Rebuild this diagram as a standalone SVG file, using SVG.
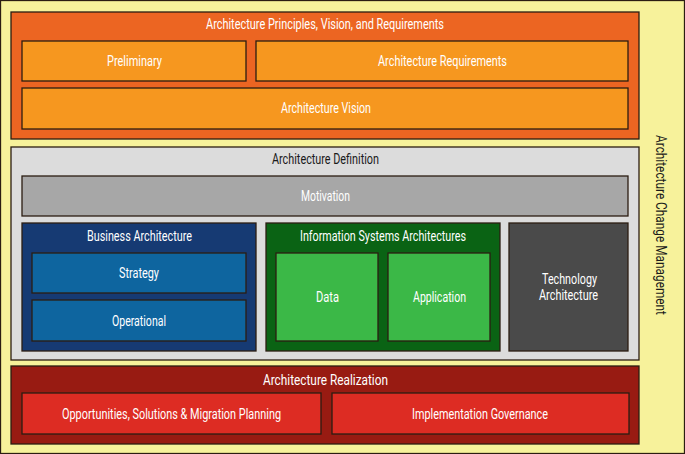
<svg xmlns="http://www.w3.org/2000/svg" width="685" height="454" viewBox="0 0 685 454">
<style>
rect{stroke:#2b1d12;stroke-width:1.3}
text{font-family:Roboto,"Liberation Sans",sans-serif;font-size:14.5px;fill:#fff;text-anchor:middle;dominant-baseline:central}
.dk{fill:#1a1a1a}
</style>
<rect x="0.5" y="0.5" width="684" height="453" fill="#F7F29B"/>
<g id="principles">
<rect x="11" y="12" width="628" height="127" fill="#EC6522"/>
<text x="325" y="24" textLength="238" lengthAdjust="spacingAndGlyphs">Architecture Principles, Vision, and Requirements</text>
</g>
<g id="preliminary"><rect x="22" y="41" width="224" height="40" fill="#F6971F"/><text x="134.5" y="61" textLength="55" lengthAdjust="spacingAndGlyphs">Preliminary</text></g>
<g id="requirements"><rect x="256" y="41" width="372" height="40" fill="#F6971F"/><text x="442.5" y="61" textLength="129" lengthAdjust="spacingAndGlyphs">Architecture Requirements</text></g>
<g id="vision"><rect x="22" y="88" width="606" height="41" fill="#F6971F"/><text x="326" y="108.5" textLength="90" lengthAdjust="spacingAndGlyphs">Architecture Vision</text></g>
<g id="definition">
<rect x="11" y="147" width="628" height="213" fill="#DCDCDC"/>
<text class="dk" x="325.5" y="159" textLength="107" lengthAdjust="spacingAndGlyphs">Architecture Definition</text>
</g>
<g id="motivation"><rect x="22" y="176" width="606" height="40" fill="#A7A7A7"/><text x="325.5" y="196" textLength="49" lengthAdjust="spacingAndGlyphs">Motivation</text></g>
<g id="business">
<rect x="22" y="223" width="234" height="128" fill="#163A73"/>
<text x="139.5" y="236" textLength="105" lengthAdjust="spacingAndGlyphs">Business Architecture</text>
</g>
<g id="strategy"><rect x="32" y="253" width="214" height="40" fill="#0E659F"/><text x="139" y="273" textLength="40" lengthAdjust="spacingAndGlyphs">Strategy</text></g>
<g id="operational"><rect x="32" y="300" width="214" height="41" fill="#0E659F"/><text x="139" y="321" textLength="54" lengthAdjust="spacingAndGlyphs">Operational</text></g>
<g id="infosys">
<rect x="266" y="223" width="234" height="128" fill="#0A6314"/>
<text x="383" y="236" textLength="166" lengthAdjust="spacingAndGlyphs">Information Systems Architectures</text>
</g>
<g id="data"><rect x="276" y="253" width="102" height="88" fill="#3BB847"/><text x="327.5" y="297" textLength="23" lengthAdjust="spacingAndGlyphs">Data</text></g>
<g id="application"><rect x="388" y="253" width="102" height="88" fill="#3BB847"/><text x="439.5" y="297" textLength="53" lengthAdjust="spacingAndGlyphs">Application</text></g>
<g id="technology"><rect x="509" y="223" width="119" height="128" fill="#4A4A4A"/><text x="569.5" y="279" textLength="55" lengthAdjust="spacingAndGlyphs">Technology</text><text x="568.5" y="295" textLength="59" lengthAdjust="spacingAndGlyphs">Architecture</text></g>
<g id="realization">
<rect x="11" y="366" width="628" height="78" fill="#981B12"/>
<text x="325.5" y="380" textLength="125" lengthAdjust="spacingAndGlyphs">Architecture Realization</text>
</g>
<g id="opportunities"><rect x="22" y="393" width="299" height="41" fill="#DD2C23"/><text x="171.5" y="414" textLength="219" lengthAdjust="spacingAndGlyphs">Opportunities, Solutions &amp; Migration Planning</text></g>
<g id="governance"><rect x="332" y="393" width="297" height="41" fill="#DD2C23"/><text x="480" y="414" textLength="136" lengthAdjust="spacingAndGlyphs">Implementation Governance</text></g>
<g id="change"><text class="dk" transform="translate(660 225) rotate(90)" x="0" y="0" textLength="180" lengthAdjust="spacingAndGlyphs">Architecture Change Management</text></g>
<g id="connectors"/>
</svg>
